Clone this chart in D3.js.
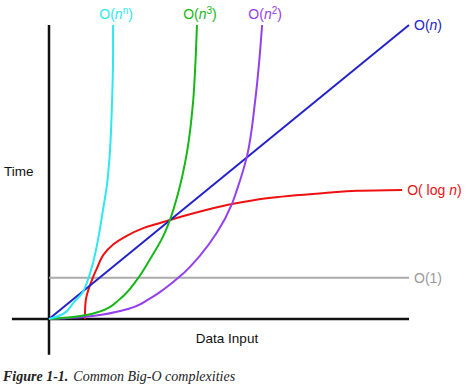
<!DOCTYPE html>
<html>
<head>
<meta charset="utf-8">
<script src="https://cdn.jsdelivr.net/npm/d3@7"></script>
<style>
  body { margin: 0; background: #fff; }
  svg { display: block; }
</style>
</head>
<body>
<script>
// values, n on x (0..10), time on y (0..10)
var constPts = [[0, 1.4], [10, 1.4]];
var linearPts = [[0, 0], [10, 10]];
var logPts = [[1.0, 0], [1.03, 0.70], [1.21, 1.38], [1.33, 1.72], [1.51, 2.18], [1.79, 2.54],
  [2.16, 2.83], [2.62, 3.09], [2.99, 3.23], [3.36, 3.37], [4.47, 3.74], [5.08, 3.91],
  [6.05, 4.11], [7.81, 4.30], [8.56, 4.36], [9.81, 4.39]];
var squarePts = [[0, 0], [0.94, 0.07], [2.06, 0.3], [2.81, 0.7], [3.2, 1.02], [3.64, 1.45],
  [4.19, 2.15], [4.67, 2.95], [5.08, 3.91], [5.22, 4.39], [5.5, 5.54], [5.72, 7.35],
  [5.86, 9.05], [5.92, 10]];
var cubePts = [[0, 0], [0.67, 0.07], [1.42, 0.26], [1.97, 0.68], [2.44, 1.33], [2.81, 2.04],
  [3.17, 2.81], [3.36, 3.37], [3.58, 4.25], [3.83, 5.65], [4.0, 7.35], [4.08, 9.05], [4.11, 10]];
var expPts = [[0, 0], [0.39, 0.17], [0.67, 0.54], [0.92, 0.88], [1.08, 1.33], [1.22, 1.9],
  [1.36, 2.69], [1.5, 3.71], [1.61, 4.56], [1.69, 5.65], [1.75, 7.35], [1.78, 9.05], [1.78, 10]];

var xAxisExtent = [-1.03, 10];
var yAxisExtent = [-1.22, 10];

var axisTitles = ["Data Input", "Time"];
var captionBold = "Figure 1-1.";
var captionText = "Common Big-O complexities";

var width = 474, height = 389;

var svg = d3.select("body").append("svg")
  .attr("width", width)
  .attr("height", height);

var x = d3.scaleLinear().domain([0, 10]).range([49, 409]);
var y = d3.scaleLinear().domain([0, 10]).range([319, 25]);

function lineWith(curve) {
  return d3.line()
    .x(function(d){ return x(d[0]); })
    .y(function(d){ return y(d[1]); })
    .curve(curve);
}

// axes (no ticks)
svg.append("line")
  .attr("x1", x(xAxisExtent[0])).attr("x2", x(xAxisExtent[1]))
  .attr("y1", y(0)).attr("y2", y(0))
  .attr("stroke", "#111").attr("stroke-width", 2.5);
svg.append("line")
  .attr("x1", x(0)).attr("x2", x(0))
  .attr("y1", y(yAxisExtent[0])).attr("y2", y(yAxisExtent[1]))
  .attr("stroke", "#111").attr("stroke-width", 2.5);

var series = [
  { pts: constPts, curve: d3.curveLinear, color: "#aaaaaa", text: "#999999", pos: "right", label: ["O(1)"] },
  { pts: logPts, curve: d3.curveCatmullRom.alpha(0.5), color: "#ee1111", text: "#ee1111", pos: "right", label: ["O( log ", "n", ")"] },
  { pts: linearPts, curve: d3.curveLinear, color: "#2222cc", text: "#2222cc", pos: "right", label: ["O(", "n", ")"] },
  { pts: squarePts, curve: d3.curveMonotoneY, color: "#9440ee", text: "#9440ee", pos: "top", label: ["O(", "n", "2", ")"] },
  { pts: cubePts, curve: d3.curveMonotoneY, color: "#16b816", text: "#16b816", pos: "top", label: ["O(", "n", "3", ")"] },
  { pts: expPts, curve: d3.curveMonotoneY, color: "#2ee8f0", text: "#2ee8f0", pos: "top", label: ["O(", "n", "n", ")"] }
];

series.forEach(function(s){
  svg.append("path")
    .datum(s.pts)
    .attr("d", lineWith(s.curve))
    .attr("fill", "none")
    .attr("stroke", s.color)
    .attr("stroke-width", 2);

  var last = s.pts[s.pts.length - 1];
  var t = svg.append("text")
    .attr("font-family", "Liberation Sans, Arial, sans-serif")
    .attr("font-size", 14)
    .attr("fill", s.text);
  if (s.pos == "right") {
    t.attr("x", x(last[0]) + 5).attr("y", y(last[1]) + 5);
  } else {
    t.attr("x", x(last[0]) + 3).attr("y", y(last[1]) - 6).attr("text-anchor", "middle");
  }
  s.label.forEach(function(part, i){
    var ts = t.append("tspan").text(part);
    if (part == "n" && i == 1) ts.attr("font-style", "italic");
    if (s.label.length == 4 && i == 2) ts.attr("font-size", 10).attr("dy", -5);
    if (s.label.length == 4 && i == 3) ts.attr("dy", 5);
  });
});

// axis titles
svg.append("text")
  .attr("x", 227).attr("y", 343)
  .attr("text-anchor", "middle")
  .attr("font-family", "Liberation Sans, Arial, sans-serif")
  .attr("font-size", 13.5)
  .attr("fill", "#111")
  .text(axisTitles[0]);
svg.append("text")
  .attr("x", 4).attr("y", 176)
  .attr("font-family", "Liberation Sans, Arial, sans-serif")
  .attr("font-size", 13.5)
  .attr("fill", "#111")
  .text(axisTitles[1]);

// caption
var cap = svg.append("text")
  .attr("x", 3).attr("y", 381)
  .attr("font-family", "Liberation Serif, Times New Roman, serif")
  .attr("font-size", 14)
  .attr("font-style", "italic")
  .attr("fill", "#222");
cap.append("tspan").attr("font-weight", "bold").text(captionBold);
cap.append("tspan").attr("dx", 5).text(captionText);
</script>
</body>
</html>
